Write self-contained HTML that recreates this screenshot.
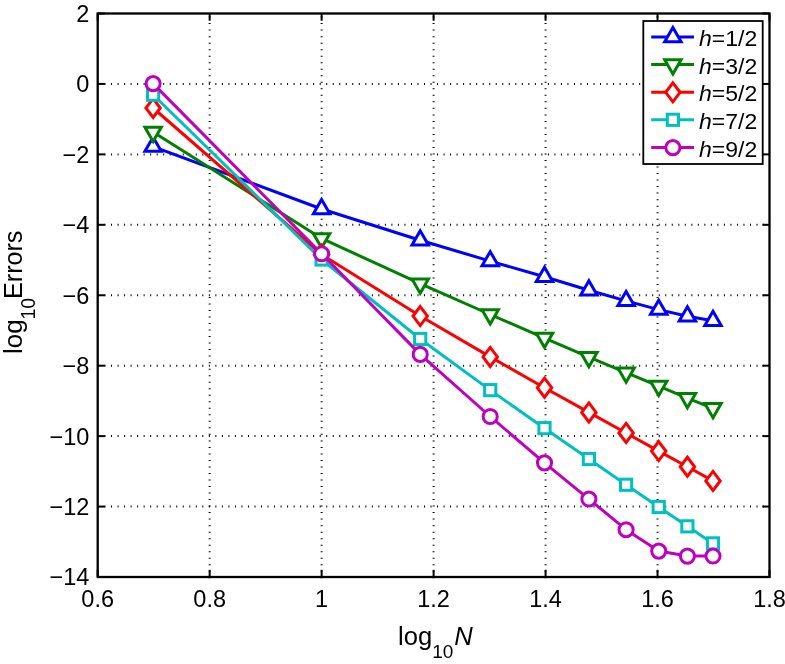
<!DOCTYPE html>
<html><head><meta charset="utf-8"><title>log10 Errors vs log10 N</title>
<style>
html,body{margin:0;padding:0;background:#fff;}
body{width:785px;height:664px;overflow:hidden;}
svg{display:block;}
text{font-family:"Liberation Sans",sans-serif;fill:#000;}
</style></head><body>
<svg width="785" height="664" viewBox="0 0 785 664">
<rect x="0" y="0" width="785" height="664" fill="#fff"/>
<g stroke="#000" stroke-width="2" stroke-dasharray="1 5.52" fill="none"><line x1="209.67" y1="578.3" x2="209.67" y2="13.5"/><line x1="321.63" y1="578.3" x2="321.63" y2="13.5"/><line x1="433.6" y1="578.3" x2="433.6" y2="13.5"/><line x1="545.57" y1="578.3" x2="545.57" y2="13.5"/><line x1="657.53" y1="578.3" x2="657.53" y2="13.5"/><line x1="98" y1="83.94" x2="769.5" y2="83.94"/><line x1="98" y1="154.38" x2="769.5" y2="154.38"/><line x1="98" y1="224.81" x2="769.5" y2="224.81"/><line x1="98" y1="295.25" x2="769.5" y2="295.25"/><line x1="98" y1="365.69" x2="769.5" y2="365.69"/><line x1="98" y1="436.12" x2="769.5" y2="436.12"/><line x1="98" y1="506.56" x2="769.5" y2="506.56"/></g>
<g stroke="#000" stroke-width="2" fill="none"><line x1="97.7" y1="577" x2="97.7" y2="569.8"/><line x1="97.7" y1="13.5" x2="97.7" y2="20.7"/><line x1="209.67" y1="577" x2="209.67" y2="569.8"/><line x1="209.67" y1="13.5" x2="209.67" y2="20.7"/><line x1="321.63" y1="577" x2="321.63" y2="569.8"/><line x1="321.63" y1="13.5" x2="321.63" y2="20.7"/><line x1="433.6" y1="577" x2="433.6" y2="569.8"/><line x1="433.6" y1="13.5" x2="433.6" y2="20.7"/><line x1="545.57" y1="577" x2="545.57" y2="569.8"/><line x1="545.57" y1="13.5" x2="545.57" y2="20.7"/><line x1="657.53" y1="577" x2="657.53" y2="569.8"/><line x1="657.53" y1="13.5" x2="657.53" y2="20.7"/><line x1="769.5" y1="577" x2="769.5" y2="569.8"/><line x1="769.5" y1="13.5" x2="769.5" y2="20.7"/><line x1="97.7" y1="13.5" x2="104.9" y2="13.5"/><line x1="769.5" y1="13.5" x2="762.3" y2="13.5"/><line x1="97.7" y1="83.94" x2="104.9" y2="83.94"/><line x1="769.5" y1="83.94" x2="762.3" y2="83.94"/><line x1="97.7" y1="154.38" x2="104.9" y2="154.38"/><line x1="769.5" y1="154.38" x2="762.3" y2="154.38"/><line x1="97.7" y1="224.81" x2="104.9" y2="224.81"/><line x1="769.5" y1="224.81" x2="762.3" y2="224.81"/><line x1="97.7" y1="295.25" x2="104.9" y2="295.25"/><line x1="769.5" y1="295.25" x2="762.3" y2="295.25"/><line x1="97.7" y1="365.69" x2="104.9" y2="365.69"/><line x1="769.5" y1="365.69" x2="762.3" y2="365.69"/><line x1="97.7" y1="436.12" x2="104.9" y2="436.12"/><line x1="769.5" y1="436.12" x2="762.3" y2="436.12"/><line x1="97.7" y1="506.56" x2="104.9" y2="506.56"/><line x1="769.5" y1="506.56" x2="762.3" y2="506.56"/><line x1="97.7" y1="577" x2="104.9" y2="577"/><line x1="769.5" y1="577" x2="762.3" y2="577"/></g>
<polyline points="153.1,146.6 321.6,209 420.2,240.3 490.2,261.1 544.5,276.8 588.9,290.3 626.1,300.85 658.7,309.6 687.4,316.3 713,320.7" fill="none" stroke="#0000ff" stroke-width="3.0" stroke-linejoin="round"/>
<polygon points="153.1,137.13 161.3,151.33 144.9,151.33" fill="#fff" stroke="#0000ff" stroke-width="3.0" stroke-linejoin="miter" stroke-miterlimit="10"/><polygon points="321.6,199.53 329.8,213.73 313.4,213.73" fill="#fff" stroke="#0000ff" stroke-width="3.0" stroke-linejoin="miter" stroke-miterlimit="10"/><polygon points="420.2,230.83 428.4,245.03 412,245.03" fill="#fff" stroke="#0000ff" stroke-width="3.0" stroke-linejoin="miter" stroke-miterlimit="10"/><polygon points="490.2,251.63 498.4,265.83 482,265.83" fill="#fff" stroke="#0000ff" stroke-width="3.0" stroke-linejoin="miter" stroke-miterlimit="10"/><polygon points="544.5,267.33 552.7,281.53 536.3,281.53" fill="#fff" stroke="#0000ff" stroke-width="3.0" stroke-linejoin="miter" stroke-miterlimit="10"/><polygon points="588.9,280.83 597.1,295.03 580.7,295.03" fill="#fff" stroke="#0000ff" stroke-width="3.0" stroke-linejoin="miter" stroke-miterlimit="10"/><polygon points="626.1,291.38 634.3,305.58 617.9,305.58" fill="#fff" stroke="#0000ff" stroke-width="3.0" stroke-linejoin="miter" stroke-miterlimit="10"/><polygon points="658.7,300.13 666.9,314.33 650.5,314.33" fill="#fff" stroke="#0000ff" stroke-width="3.0" stroke-linejoin="miter" stroke-miterlimit="10"/><polygon points="687.4,306.83 695.6,321.03 679.2,321.03" fill="#fff" stroke="#0000ff" stroke-width="3.0" stroke-linejoin="miter" stroke-miterlimit="10"/><polygon points="713,311.23 721.2,325.43 704.8,325.43" fill="#fff" stroke="#0000ff" stroke-width="3.0" stroke-linejoin="miter" stroke-miterlimit="10"/>
<polyline points="153.1,132.1 321.6,238.4 420.2,283.7 490.2,314.5 544.5,338.05 588.9,357.2 626.1,372.7 658.7,386.1 687.4,398.2 713,408.3" fill="none" stroke="#008000" stroke-width="3.0" stroke-linejoin="round"/>
<polygon points="153.1,141.57 161.3,127.37 144.9,127.37" fill="#fff" stroke="#008000" stroke-width="3.0" stroke-linejoin="miter" stroke-miterlimit="10"/><polygon points="321.6,247.87 329.8,233.67 313.4,233.67" fill="#fff" stroke="#008000" stroke-width="3.0" stroke-linejoin="miter" stroke-miterlimit="10"/><polygon points="420.2,293.17 428.4,278.97 412,278.97" fill="#fff" stroke="#008000" stroke-width="3.0" stroke-linejoin="miter" stroke-miterlimit="10"/><polygon points="490.2,323.97 498.4,309.77 482,309.77" fill="#fff" stroke="#008000" stroke-width="3.0" stroke-linejoin="miter" stroke-miterlimit="10"/><polygon points="544.5,347.52 552.7,333.32 536.3,333.32" fill="#fff" stroke="#008000" stroke-width="3.0" stroke-linejoin="miter" stroke-miterlimit="10"/><polygon points="588.9,366.67 597.1,352.47 580.7,352.47" fill="#fff" stroke="#008000" stroke-width="3.0" stroke-linejoin="miter" stroke-miterlimit="10"/><polygon points="626.1,382.17 634.3,367.97 617.9,367.97" fill="#fff" stroke="#008000" stroke-width="3.0" stroke-linejoin="miter" stroke-miterlimit="10"/><polygon points="658.7,395.57 666.9,381.37 650.5,381.37" fill="#fff" stroke="#008000" stroke-width="3.0" stroke-linejoin="miter" stroke-miterlimit="10"/><polygon points="687.4,407.67 695.6,393.47 679.2,393.47" fill="#fff" stroke="#008000" stroke-width="3.0" stroke-linejoin="miter" stroke-miterlimit="10"/><polygon points="713,417.77 721.2,403.57 704.8,403.57" fill="#fff" stroke="#008000" stroke-width="3.0" stroke-linejoin="miter" stroke-miterlimit="10"/>
<polyline points="153.1,108 321.6,254.6 420.2,316.05 490.2,356.9 544.5,387.7 588.9,412.4 626.1,432.95 658.7,451.1 687.4,466.75 713,480.9" fill="none" stroke="#ff0000" stroke-width="3.0" stroke-linejoin="round"/>
<polygon points="153.1,98.5 160.3,108 153.1,117.5 145.9,108" fill="#fff" stroke="#ff0000" stroke-width="3.0" stroke-linejoin="miter" stroke-miterlimit="10"/><polygon points="321.6,245.1 328.8,254.6 321.6,264.1 314.4,254.6" fill="#fff" stroke="#ff0000" stroke-width="3.0" stroke-linejoin="miter" stroke-miterlimit="10"/><polygon points="420.2,306.55 427.4,316.05 420.2,325.55 413,316.05" fill="#fff" stroke="#ff0000" stroke-width="3.0" stroke-linejoin="miter" stroke-miterlimit="10"/><polygon points="490.2,347.4 497.4,356.9 490.2,366.4 483,356.9" fill="#fff" stroke="#ff0000" stroke-width="3.0" stroke-linejoin="miter" stroke-miterlimit="10"/><polygon points="544.5,378.2 551.7,387.7 544.5,397.2 537.3,387.7" fill="#fff" stroke="#ff0000" stroke-width="3.0" stroke-linejoin="miter" stroke-miterlimit="10"/><polygon points="588.9,402.9 596.1,412.4 588.9,421.9 581.7,412.4" fill="#fff" stroke="#ff0000" stroke-width="3.0" stroke-linejoin="miter" stroke-miterlimit="10"/><polygon points="626.1,423.45 633.3,432.95 626.1,442.45 618.9,432.95" fill="#fff" stroke="#ff0000" stroke-width="3.0" stroke-linejoin="miter" stroke-miterlimit="10"/><polygon points="658.7,441.6 665.9,451.1 658.7,460.6 651.5,451.1" fill="#fff" stroke="#ff0000" stroke-width="3.0" stroke-linejoin="miter" stroke-miterlimit="10"/><polygon points="687.4,457.25 694.6,466.75 687.4,476.25 680.2,466.75" fill="#fff" stroke="#ff0000" stroke-width="3.0" stroke-linejoin="miter" stroke-miterlimit="10"/><polygon points="713,471.4 720.2,480.9 713,490.4 705.8,480.9" fill="#fff" stroke="#ff0000" stroke-width="3.0" stroke-linejoin="miter" stroke-miterlimit="10"/>
<polyline points="153.1,94.7 321.6,259.5 420.2,339 490.2,390.15 544.5,428.15 588.9,459 626.1,484.75 658.7,507 687.4,526.35 713,543.4" fill="none" stroke="#00bfbf" stroke-width="3.0" stroke-linejoin="round"/>
<rect x="147.5" y="89.1" width="11.2" height="11.2" fill="#fff" stroke="#00bfbf" stroke-width="3.0" stroke-linejoin="miter" stroke-miterlimit="10"/><rect x="316" y="253.9" width="11.2" height="11.2" fill="#fff" stroke="#00bfbf" stroke-width="3.0" stroke-linejoin="miter" stroke-miterlimit="10"/><rect x="414.6" y="333.4" width="11.2" height="11.2" fill="#fff" stroke="#00bfbf" stroke-width="3.0" stroke-linejoin="miter" stroke-miterlimit="10"/><rect x="484.6" y="384.55" width="11.2" height="11.2" fill="#fff" stroke="#00bfbf" stroke-width="3.0" stroke-linejoin="miter" stroke-miterlimit="10"/><rect x="538.9" y="422.55" width="11.2" height="11.2" fill="#fff" stroke="#00bfbf" stroke-width="3.0" stroke-linejoin="miter" stroke-miterlimit="10"/><rect x="583.3" y="453.4" width="11.2" height="11.2" fill="#fff" stroke="#00bfbf" stroke-width="3.0" stroke-linejoin="miter" stroke-miterlimit="10"/><rect x="620.5" y="479.15" width="11.2" height="11.2" fill="#fff" stroke="#00bfbf" stroke-width="3.0" stroke-linejoin="miter" stroke-miterlimit="10"/><rect x="653.1" y="501.4" width="11.2" height="11.2" fill="#fff" stroke="#00bfbf" stroke-width="3.0" stroke-linejoin="miter" stroke-miterlimit="10"/><rect x="681.8" y="520.75" width="11.2" height="11.2" fill="#fff" stroke="#00bfbf" stroke-width="3.0" stroke-linejoin="miter" stroke-miterlimit="10"/><rect x="707.4" y="537.8" width="11.2" height="11.2" fill="#fff" stroke="#00bfbf" stroke-width="3.0" stroke-linejoin="miter" stroke-miterlimit="10"/>
<polyline points="153.1,83.6 321.6,253.8 420.2,354.4 490.2,416.5 544.5,462.85 588.9,499.05 626.1,529.7 658.7,551.1 687.4,556.1 713,556.05" fill="none" stroke="#bf00bf" stroke-width="3.0" stroke-linejoin="round"/>
<circle cx="153.1" cy="83.6" r="7.05" fill="#fff" stroke="#bf00bf" stroke-width="3.0" stroke-linejoin="miter" stroke-miterlimit="10"/><circle cx="321.6" cy="253.8" r="7.05" fill="#fff" stroke="#bf00bf" stroke-width="3.0" stroke-linejoin="miter" stroke-miterlimit="10"/><circle cx="420.2" cy="354.4" r="7.05" fill="#fff" stroke="#bf00bf" stroke-width="3.0" stroke-linejoin="miter" stroke-miterlimit="10"/><circle cx="490.2" cy="416.5" r="7.05" fill="#fff" stroke="#bf00bf" stroke-width="3.0" stroke-linejoin="miter" stroke-miterlimit="10"/><circle cx="544.5" cy="462.85" r="7.05" fill="#fff" stroke="#bf00bf" stroke-width="3.0" stroke-linejoin="miter" stroke-miterlimit="10"/><circle cx="588.9" cy="499.05" r="7.05" fill="#fff" stroke="#bf00bf" stroke-width="3.0" stroke-linejoin="miter" stroke-miterlimit="10"/><circle cx="626.1" cy="529.7" r="7.05" fill="#fff" stroke="#bf00bf" stroke-width="3.0" stroke-linejoin="miter" stroke-miterlimit="10"/><circle cx="658.7" cy="551.1" r="7.05" fill="#fff" stroke="#bf00bf" stroke-width="3.0" stroke-linejoin="miter" stroke-miterlimit="10"/><circle cx="687.4" cy="556.1" r="7.05" fill="#fff" stroke="#bf00bf" stroke-width="3.0" stroke-linejoin="miter" stroke-miterlimit="10"/><circle cx="713" cy="556.05" r="7.05" fill="#fff" stroke="#bf00bf" stroke-width="3.0" stroke-linejoin="miter" stroke-miterlimit="10"/>
<rect x="97.7" y="13.5" width="671.8" height="563.5" fill="none" stroke="#000" stroke-width="2.3"/>
<rect x="643.3" y="21.0" width="119.4" height="143" fill="#fff" stroke="#000" stroke-width="1.8"/>
<line x1="651.2" y1="37" x2="694" y2="37" stroke="#0000ff" stroke-width="3.0"/><polygon points="672.9,27.53 681.1,41.73 664.7,41.73" fill="#fff" stroke="#0000ff" stroke-width="3.0" stroke-linejoin="miter" stroke-miterlimit="10"/><text x="699" y="45.9" font-size="22.8" textLength="58.2" lengthAdjust="spacingAndGlyphs"><tspan font-style="italic">h</tspan>=1/2</text>
<line x1="651.2" y1="64.6" x2="694" y2="64.6" stroke="#008000" stroke-width="3.0"/><polygon points="672.9,74.07 681.1,59.87 664.7,59.87" fill="#fff" stroke="#008000" stroke-width="3.0" stroke-linejoin="miter" stroke-miterlimit="10"/><text x="699" y="73.5" font-size="22.8" textLength="58.2" lengthAdjust="spacingAndGlyphs"><tspan font-style="italic">h</tspan>=3/2</text>
<line x1="651.2" y1="92.3" x2="694" y2="92.3" stroke="#ff0000" stroke-width="3.0"/><polygon points="672.9,82.8 680.1,92.3 672.9,101.8 665.7,92.3" fill="#fff" stroke="#ff0000" stroke-width="3.0" stroke-linejoin="miter" stroke-miterlimit="10"/><text x="699" y="101.2" font-size="22.8" textLength="58.2" lengthAdjust="spacingAndGlyphs"><tspan font-style="italic">h</tspan>=5/2</text>
<line x1="651.2" y1="119.8" x2="694" y2="119.8" stroke="#00bfbf" stroke-width="3.0"/><rect x="667.3" y="114.2" width="11.2" height="11.2" fill="#fff" stroke="#00bfbf" stroke-width="3.0" stroke-linejoin="miter" stroke-miterlimit="10"/><text x="699" y="128.7" font-size="22.8" textLength="58.2" lengthAdjust="spacingAndGlyphs"><tspan font-style="italic">h</tspan>=7/2</text>
<line x1="651.2" y1="147.6" x2="694" y2="147.6" stroke="#bf00bf" stroke-width="3.0"/><circle cx="672.9" cy="147.6" r="7.05" fill="#fff" stroke="#bf00bf" stroke-width="3.0" stroke-linejoin="miter" stroke-miterlimit="10"/><text x="699" y="156.5" font-size="22.8" textLength="58.2" lengthAdjust="spacingAndGlyphs"><tspan font-style="italic">h</tspan>=9/2</text>
<text x="89.4" y="21.9" font-size="23.5" text-anchor="end">2</text>
<text x="89.4" y="92.34" font-size="23.5" text-anchor="end">0</text>
<text x="89.4" y="162.78" font-size="23.5" text-anchor="end">−2</text>
<text x="89.4" y="233.21" font-size="23.5" text-anchor="end">−4</text>
<text x="89.4" y="303.65" font-size="23.5" text-anchor="end">−6</text>
<text x="89.4" y="374.09" font-size="23.5" text-anchor="end">−8</text>
<text x="89.4" y="444.52" font-size="23.5" text-anchor="end">−10</text>
<text x="89.4" y="514.96" font-size="23.5" text-anchor="end">−12</text>
<text x="89.4" y="585.4" font-size="23.5" text-anchor="end">−14</text>
<text x="97.7" y="607" font-size="23.5" text-anchor="middle">0.6</text>
<text x="209.67" y="607" font-size="23.5" text-anchor="middle">0.8</text>
<text x="321.63" y="607" font-size="23.5" text-anchor="middle">1</text>
<text x="433.6" y="607" font-size="23.5" text-anchor="middle">1.2</text>
<text x="545.57" y="607" font-size="23.5" text-anchor="middle">1.4</text>
<text x="657.53" y="607" font-size="23.5" text-anchor="middle">1.6</text>
<text x="769.5" y="607" font-size="23.5" text-anchor="middle">1.8</text>
<text x="398" y="644.6" font-size="25.6">log<tspan font-size="19" dy="13">10</tspan><tspan dy="-13" dx="1" font-style="italic">N</tspan></text>
<text transform="translate(22.2,354.1) rotate(-90)" font-size="26">log</text><text transform="translate(34.7,319.6) rotate(-90)" font-size="19.5">10</text><text transform="translate(22.2,298.9) rotate(-90)" font-size="26" textLength="68.3" lengthAdjust="spacingAndGlyphs">Errors</text>
</svg>
</body></html>
